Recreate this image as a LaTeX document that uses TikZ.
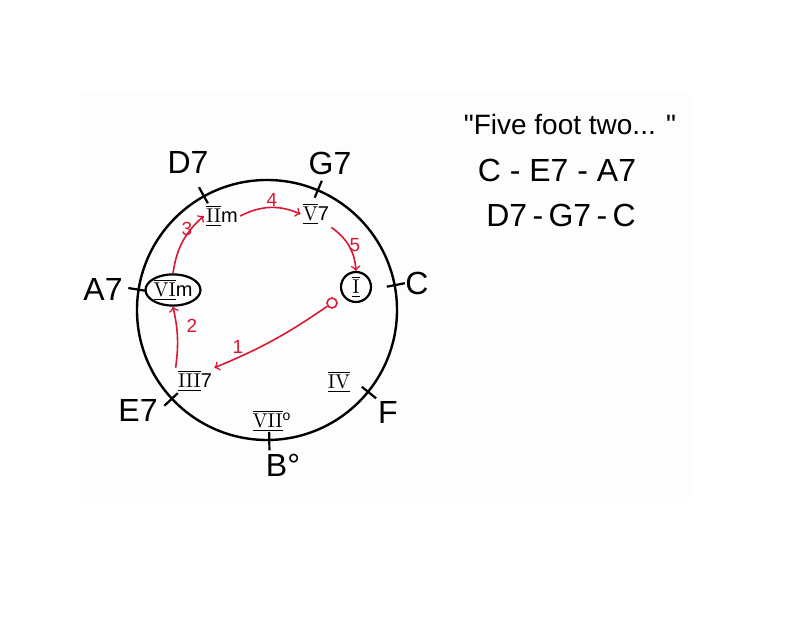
\documentclass[tikz,border=0pt]{standalone}
\usepackage{fontspec}
\setmainfont{Liberation Sans}[Ligatures=TeXOff]
\newfontfamily\numfont{Latin Modern Roman}
\usetikzlibrary{calc,shapes.geometric}

\newlength{\du}
\setlength{\du}{0.5pt}

\definecolor{dialinecolor}{rgb}{0.000000, 0.000000, 0.000000}
\definecolor{markercolor}{rgb}{0.850000, 0.100000, 0.200000}
\definecolor{papercolor}{rgb}{0.993000, 0.993000, 0.993000}

\newcommand{\romnum}[1]{$\overline{\underline{\mbox{\numfont #1}}}$}

\tikzset{
  chord/.style={text=dialinecolor, font=\fontsize{16}{18}\selectfont, inner sep=0pt},
  degree/.style={text=dialinecolor, font=\fontsize{10}{12}\selectfont, inner sep=1pt},
  stepno/.style={text=markercolor, font=\fontsize{9.5}{10}\selectfont, inner sep=0pt},
  tickline/.style={draw=dialinecolor, line width=1.1pt},
  move/.style={draw=markercolor, line width=0.8pt, ->, >=to},
  song/.style={text=dialinecolor, font=\fontsize{16}{18}\selectfont, inner sep=0pt}
}

\begin{document}
\begin{tikzpicture}[x=\du, y=\du]
\useasboundingbox (0,0) rectangle (802,619);
\fill[papercolor] (80,121) rectangle (690,527);

% the wheel
\node[circle, draw=dialinecolor, line width=1.2pt, minimum size=260\du, inner sep=0pt] (wheel) at (267,309) {};

% chord names round the outside
\node[chord] (D7) at (188,456) {D7};
\node[chord] (G7) at (330,456) {G7};
\node[chord] (A7) at (103,329) {A7};
\node[chord] (C) at (417,336) {C};
\node[chord] (E7) at (138,209) {E7};
\node[chord] (F) at (388,207) {F};
\node[chord] (Bdim) at (283,154) {B°};

\foreach \ang in {119,67,11,171,223,321,271}
  \draw[tickline] ($(wheel.center)!0.93!(wheel.\ang)$) -- ($(wheel.center)!1.07!(wheel.\ang)$);

% scale degrees inside
\node[degree] (IIm) at (222,403) {\romnum{II}m};
\node[degree] (V7) at (316,405) {\romnum{V}7};
\node[degree, circle, draw=dialinecolor, line width=1.1pt, minimum size=15pt, inner sep=0pt] (I) at (356,332) {\romnum{I}};
\node[degree, ellipse, draw=dialinecolor, line width=1.1pt, minimum width=23pt, minimum height=13.5pt, inner sep=0pt] (VIm) at (173,329) {\romnum{VI}m};
\node[degree] (III7) at (195,238) {\romnum{III}7};
\node[degree] (IV) at (339,237) {\romnum{IV}};
\node[degree] (VIIdim) at (272,198) {\romnum{VII}$^{\mathrm{o}}$};

% the progression
\node[circle, draw=markercolor, line width=0.8pt, minimum size=5pt, inner sep=0pt] (start) at (332,316) {};
\draw[move] (start) to[bend left=6] (III7.north east);
\draw[move] (III7.north west) to[bend right=10] (VIm.south);
\draw[move] (VIm.north) to[bend left=20] (IIm.west);
\draw[move] (IIm.east) to[bend left=25] (V7.west);
\draw[move] (V7.south east) to[bend left=25] (I.north);

\node[stepno] (s1) at (238,272) {1};
\node[stepno] (s2) at (192,293) {2};
\node[stepno] (s3) at (187,390) {3};
\node[stepno] (s4) at (272,419) {4};
\node[stepno] (s5) at (355,374) {5};

% song
\node[song, font=\fontsize{14}{16}\selectfont] (title) at (570,494) {"Five foot two... "};
\node[song] (line1) at (557,449) {C - E7 - A7};
\node[song] (line2) at (561,404) {D7\,-\,G7\,-\,C};
\end{tikzpicture}
\end{document}
